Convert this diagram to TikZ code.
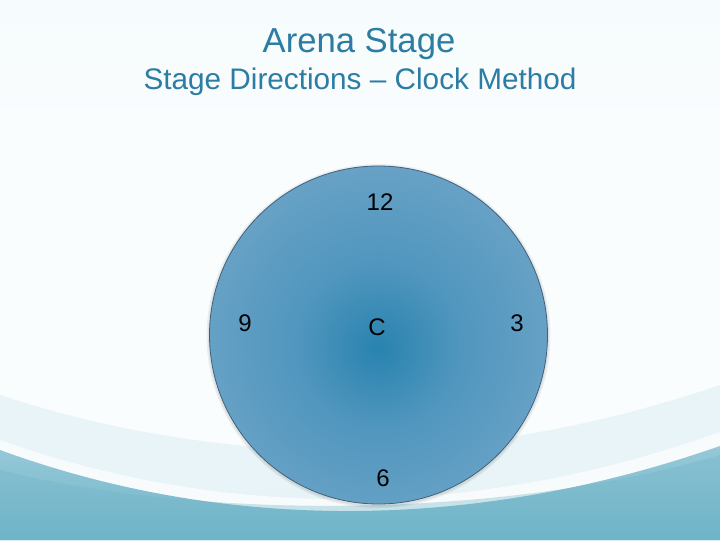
\documentclass[tikz,border=0pt]{standalone}
\usepackage{fontspec}
\setmainfont{Liberation Sans}
\definecolor{titleblue}{RGB}{44,124,164}
\definecolor{bgtop}{RGB}{239,249,251}
\definecolor{bgwhite}{RGB}{250,253,254}
\definecolor{bglow}{RGB}{200,228,236}
\definecolor{wavetop}{RGB}{150,201,216}
\definecolor{wavedark}{RGB}{112,180,200}
\definecolor{faceedge}{RGB}{114,166,201}
\definecolor{facemid}{RGB}{80,150,190}
\definecolor{facecore}{RGB}{40,131,175}
\definecolor{rimline}{RGB}{62,98,128}
\pgfdeclareradialshading{clockface}{\pgfpoint{0bp}{-2bp}}{%
  color(0bp)=(facecore); color(12bp)=(facemid); color(32bp)=(faceedge); color(50bp)=(faceedge)}
\pgfdeclareverticalshading{slideback}{100bp}{%
  color(0bp)=(bglow); color(30bp)=(bgwhite); color(60bp)=(bgwhite); color(100bp)=(bgtop)}
\tikzset{
  stagecircle/.style={circle, draw=rimline, line width=0.6pt, shading=clockface,
    minimum size=253.5pt, inner sep=0pt},
  clocklabel/.style={font=\fontsize{18}{22}\selectfont, text=black, inner sep=0pt},
  titletext/.style={text=titleblue, inner sep=0pt, anchor=base}
}
\begin{document}
\begin{tikzpicture}[x=0.75pt,y=0.75pt,yscale=-1]
\useasboundingbox (0,0) rectangle (720,540);

%Background
\shade [shading=slideback] (0,0) rectangle (720,540);
%Waves
\fill [bglow, opacity=0.35] (0,395) .. controls (230,470) and (470,470) .. (720,385) -- (720,540) -- (0,540) -- cycle ;
\fill [white, opacity=0.7] (0,440) .. controls (230,522) and (480,518) .. (720,432) -- (720,446) .. controls (480,530) and (230,534) .. (0,450) -- cycle ;
\shade [top color=wavetop, bottom color=wavedark] (0,450) .. controls (230,534) and (480,530) .. (720,446) -- (720,540) -- (0,540) -- cycle ;
\fill [wavedark, opacity=0.35] (0,470) .. controls (200,520) and (500,520) .. (720,455) -- (720,540) -- (0,540) -- cycle ;

%Shadow of the stage
\fill [black, opacity=0.06] (378.5,336) circle (172) ;
\fill [black, opacity=0.06] (378.5,336) circle (170.5) ;

%Stage
\node [stagecircle] (stage) at (378.5,335) {};

% Text Node
\node [clocklabel] (twelve) at (380,202) {12};
% Text Node
\node [clocklabel] (nine) at (245,323) {9};
% Text Node
\node [clocklabel] (centre) at (377,327) {C};
% Text Node
\node [clocklabel] (three) at (517,323) {3};
% Text Node
\node [clocklabel] (six) at (383,478) {6};

% Title
\node [titletext, font=\fontsize{26}{31}\selectfont] (title) at (359,52) {Arena Stage};
\node [titletext, font=\fontsize{22.3}{27}\selectfont] (subtitle) at (360,89) {Stage Directions – Clock Method};

\end{tikzpicture}
\end{document}
